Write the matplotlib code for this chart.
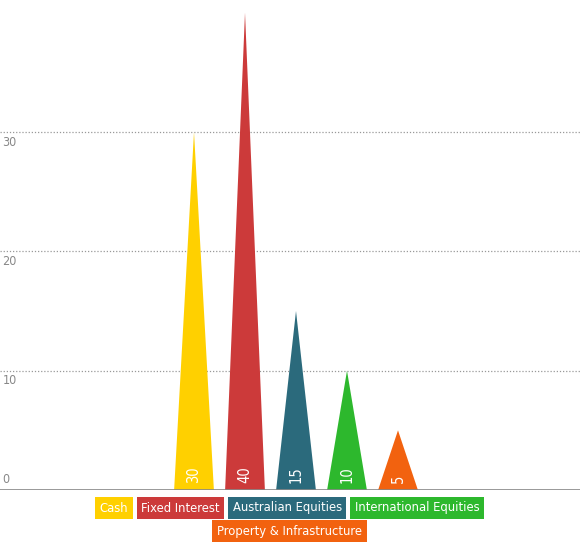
import numpy as np
import matplotlib
matplotlib.use("Agg")
import matplotlib.pyplot as plt
from matplotlib.patches import Polygon

categories = ["Cash", "Fixed Interest", "Australian Equities",
              "International Equities", "Property & Infrastructure"]
values = [30, 40, 15, 10, 5]
colors = ["#FFD000", "#CC3A3A", "#2B6A7C", "#2DB82D", "#F2620F"]
ticks = [0, 10, 20, 30]
legend_rows = [[0, 1, 2, 3], [4]]

plt.rcParams["font.family"] = ["DejaVu Sans"]
plt.rcParams["font.stretch"] = "condensed"

fig = plt.figure(figsize=(5.87, 5.48), dpi=100)
ax = fig.add_axes([0, 58 / 548, 580 / 587, 490 / 548])
ax.set_xlim(-194 / 51, (580 - 194) / 51)
ax.set_ylim(0, 41.06)
ax.axis("off")

half = 0.39
for i, (v, c) in enumerate(zip(values, colors)):
    tri = Polygon([(i - half, 0), (i + half, 0), (i, v)], closed=True,
                  facecolor=c, edgecolor="none")
    ax.add_patch(tri)
    ax.text(i, 0.6, str(v), rotation=90, ha="center", va="bottom",
            color="white", fontsize=10.5)

xl = ax.get_xlim()
for t in ticks:
    if t == 0:
        ax.plot(xl, [0, 0], color="#888888", lw=1.2, zorder=3)
        ax.text(xl[0] + 0.05, 0.3, str(t), ha="left", va="bottom",
                color="#888888", fontsize=9)
    else:
        ax.plot(xl, [t, t], color="#999999", lw=0.9, ls=(0, (1, 1.5)), zorder=0)
        ax.text(xl[0] + 0.05, t - 0.3, str(t), ha="left", va="top",
                color="#888888", fontsize=9)

# legend: coloured boxes with white text, centred rows
fig.canvas.draw()
r = fig.canvas.get_renderer()
W = fig.bbox.width
row_y = [548 - 508, 548 - 531]
gap = 5
pad = 4
for row, y in zip(legend_rows, row_y):
    items = []
    for k in row:
        t = fig.text(0, y / 548, categories[k], color="white", fontsize=9.3,
                     ha="left", va="center")
        w = t.get_window_extent(r).width
        items.append((t, w, k))
    total = sum(w + 2 * pad for _, w, _ in items) + gap * (len(items) - 1)
    x = (W - total) / 2 - 4
    for t, w, k in items:
        t.set_position(((x + pad) / W, y / 548))
        t.set_bbox(dict(boxstyle="square,pad=0.35", facecolor=colors[k],
                        edgecolor="none"))
        x += w + 2 * pad + gap

fig.savefig("out.png", dpi=100, facecolor="white")
